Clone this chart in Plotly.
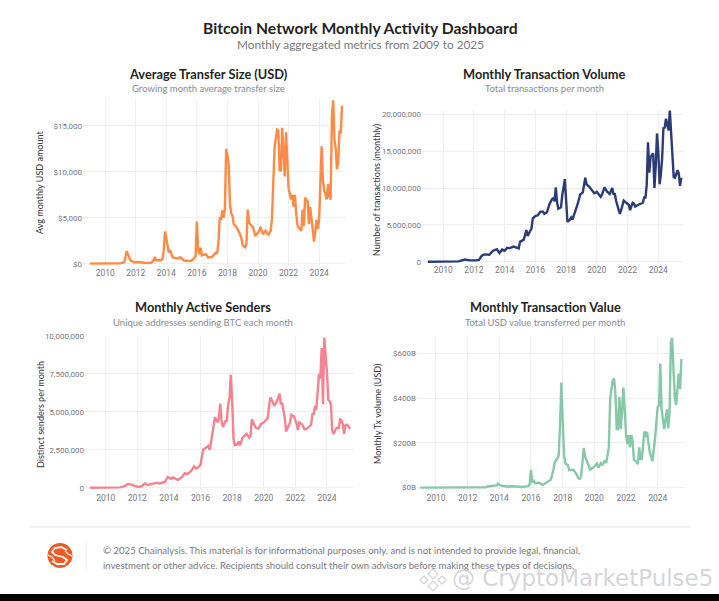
#!/usr/bin/env python3
"""Bitcoin network monthly activity dashboard."""

import plotly.graph_objects as go

W, H = 719, 601
TEXT_FONT = "Lato"
TICK_FONT = "Roboto"

# values
size_dates = ["2009-01", "2010-06", "2011-01", "2011-04", "2011-05", "2011-06", "2011-07", "2011-09", "2011-12",
              "2012-03", "2012-09", "2013-01", "2013-03", "2013-04", "2013-05", "2013-08", "2013-10", "2013-11", "2013-12",
              "2014-01", "2014-02", "2014-03", "2014-04", "2014-06", "2014-10", "2014-12",
              "2015-03", "2015-08", "2015-10", "2015-12", "2016-01", "2016-02", "2016-03", "2016-04", "2016-05", "2016-08", "2016-10",
              "2017-01", "2017-04", "2017-05", "2017-06", "2017-07", "2017-08", "2017-09", "2017-10", "2017-11", "2017-12",
              "2018-01", "2018-02", "2018-03", "2018-04", "2018-05", "2018-06", "2018-08", "2018-10", "2018-12",
              "2019-01", "2019-03", "2019-04", "2019-05", "2019-06", "2019-07", "2019-09", "2019-11",
              "2020-02", "2020-03", "2020-05", "2020-07", "2020-09", "2020-11", "2020-12",
              "2021-01", "2021-02", "2021-04", "2021-05", "2021-06", "2021-07", "2021-08", "2021-09", "2021-10", "2021-11", "2021-12",
              "2022-01", "2022-03", "2022-04", "2022-05", "2022-06", "2022-07", "2022-08", "2022-09", "2022-11", "2022-12",
              "2023-01", "2023-02", "2023-04", "2023-05", "2023-06", "2023-07", "2023-09", "2023-10", "2023-11", "2023-12",
              "2024-01", "2024-02", "2024-03", "2024-04", "2024-05", "2024-07", "2024-08", "2024-09", "2024-10", "2024-11", "2024-12",
              "2025-01", "2025-02", "2025-03", "2025-04", "2025-05", "2025-06", "2025-07"]
size_usd = [5, 10, 50, 150, 700, 1350, 1000, 350, 150,
            180, 80, 100, 350, 750, 400, 350, 500, 1500, 3500,
            2900, 2000, 1200, 1500, 700, 550, 700,
            350, 280, 450, 800, 4600, 1500, 1000, 1750, 900, 1050, 650,
            750, 1200, 1100, 2500, 5000, 4900, 5800, 5000, 6000, 12500,
            11800, 10800, 6500, 5500, 5200, 4300, 4000, 3500, 2800,
            2000, 1800, 2200, 5900, 4500, 4300, 4000, 3000,
            3600, 4000, 3200, 3600, 3100, 3600, 5000,
            9000, 12700, 14600, 14500, 10200, 10100, 14800, 12000, 9500, 14300, 11500,
            8200, 7000, 7500, 6200, 7500, 5500, 4200, 3900, 3600, 5900,
            4100, 7200, 6800, 4300, 6200, 5000, 2400, 3500, 4800, 3800,
            4800, 9000, 12800, 9000, 8000, 7000, 8700, 7300, 7000, 16000, 17800,
            13500, 12500, 10300, 11000, 14500, 14200, 17200]

volume_dates = ["2009-01", "2010-06", "2011-01", "2011-06", "2011-10",
                "2012-03", "2012-05", "2012-07", "2012-09", "2013-01", "2013-04", "2013-07", "2013-09", "2013-11",
                "2014-01", "2014-03", "2014-05", "2014-08", "2014-12",
                "2015-01", "2015-04", "2015-06", "2015-07", "2015-09", "2015-10", "2015-11",
                "2016-01", "2016-03", "2016-05", "2016-07", "2016-08", "2016-10", "2016-12",
                "2017-02", "2017-03", "2017-04", "2017-05", "2017-06", "2017-07", "2017-09", "2017-10", "2017-12",
                "2018-01", "2018-02", "2018-04", "2018-05", "2018-06", "2018-08", "2018-10", "2018-12",
                "2019-02", "2019-04", "2019-05", "2019-07", "2019-09", "2019-11",
                "2020-01", "2020-04", "2020-05", "2020-07", "2020-09", "2020-11",
                "2021-01", "2021-02", "2021-03", "2021-04", "2021-07", "2021-08", "2021-10", "2021-12",
                "2022-02", "2022-03", "2022-05", "2022-06", "2022-07", "2022-09",
                "2023-01", "2023-02", "2023-03", "2023-04", "2023-05", "2023-06", "2023-07", "2023-09", "2023-10", "2023-11", "2023-12",
                "2024-01", "2024-02", "2024-03", "2024-04", "2024-05", "2024-06", "2024-07", "2024-08", "2024-09", "2024-10", "2024-11", "2024-12",
                "2025-01", "2025-02", "2025-03", "2025-04", "2025-05", "2025-06", "2025-07"]
volume_tx = [500, 8000, 50000, 300000, 180000,
             200000, 250000, 800000, 1000000, 950000, 1500000, 1700000, 1200000, 1650000,
             1500000, 1900000, 1850000, 2050000, 1800000,
             2700000, 3000000, 4300000, 3500000, 4200000, 4500000, 5900000,
             6200000, 6300000, 6800000, 6800000, 6500000, 6700000, 7800000,
             8500000, 8600000, 8200000, 10100000, 8000000, 7200000, 7400000, 9000000, 11200000,
             8500000, 5400000, 5700000, 6000000, 5700000, 6700000, 7800000, 9100000,
             9400000, 11400000, 10500000, 10200000, 9800000, 9300000,
             9500000, 8800000, 9100000, 10100000, 9500000, 9200000,
             10000000, 9100000, 9300000, 8300000, 6500000, 7000000, 8300000, 8000000,
             7700000, 7000000, 8000000, 7900000, 7500000, 7700000,
             8000000, 8800000, 8600000, 10500000, 16200000, 12100000, 14200000, 14700000, 10000000, 13000000, 17400000,
             15000000, 10500000, 11800000, 14000000, 18100000, 18200000, 19400000, 18700000, 17800000, 20500000, 17000000, 13000000,
             11500000, 11400000, 11900000, 12400000, 12000000, 10300000, 11400000]

senders_dates = ["2009-01", "2010-06", "2010-12", "2011-03", "2011-06", "2011-08", "2011-11",
                 "2012-01", "2012-04", "2012-07", "2012-09", "2012-12", "2013-04", "2013-06", "2013-10", "2013-12",
                 "2014-03", "2014-04", "2014-08", "2014-11",
                 "2015-01", "2015-03", "2015-06", "2015-08", "2015-10",
                 "2016-01", "2016-03", "2016-07", "2016-08", "2016-09", "2016-10", "2016-12",
                 "2017-02", "2017-03", "2017-04", "2017-05", "2017-06", "2017-08", "2017-09", "2017-10", "2017-11", "2017-12",
                 "2018-01", "2018-02", "2018-03", "2018-05", "2018-06", "2018-07", "2018-09", "2018-12",
                 "2019-02", "2019-03", "2019-04", "2019-05", "2019-07", "2019-09", "2019-11",
                 "2020-01", "2020-03", "2020-04", "2020-05", "2020-06", "2020-07", "2020-09", "2020-11",
                 "2021-01", "2021-02", "2021-03", "2021-05", "2021-06", "2021-08", "2021-09", "2021-10", "2021-12",
                 "2022-02", "2022-03", "2022-04", "2022-06", "2022-08", "2022-10",
                 "2023-01", "2023-02", "2023-03", "2023-04", "2023-05", "2023-06", "2023-07", "2023-08", "2023-09", "2023-10", "2023-11", "2023-12",
                 "2024-01", "2024-02", "2024-03", "2024-04", "2024-05", "2024-06", "2024-08", "2024-09", "2024-10", "2024-11", "2024-12",
                 "2025-01", "2025-02", "2025-03", "2025-04", "2025-05", "2025-06", "2025-07"]
senders = [500, 5000, 20000, 80000, 250000, 220000, 100000,
           60000, 80000, 280000, 180000, 240000, 330000, 280000, 380000, 700000,
           580000, 680000, 520000, 700000,
           960000, 900000, 1100000, 1400000, 1250000,
           1500000, 2500000, 2750000, 2500000, 3000000, 3500000, 4650000,
           4300000, 4600000, 5550000, 4400000, 4000000, 4400000, 4400000, 5500000, 5900000, 7450000,
           5800000, 3300000, 2800000, 2850000, 3050000, 2800000, 3300000, 3550000,
           3300000, 3400000, 4500000, 4300000, 3950000, 3900000, 4200000,
           4300000, 4500000, 4600000, 5300000, 5950000, 5800000, 5400000, 5700000,
           6200000, 5500000, 5600000, 4600000, 3700000, 4100000, 4300000, 4800000, 4700000,
           4200000, 3800000, 4300000, 4200000, 3850000, 3900000,
           4150000, 4900000, 4800000, 5400000, 5150000, 6800000, 7500000, 7200000, 9200000, 5500000, 9900000, 8600000,
           7700000, 5800000, 5700000, 5500000, 3800000, 3550000, 3900000, 3950000, 3950000, 4500000, 4450000,
           4200000, 3550000, 4100000, 4150000, 4100000, 3950000, 3950000]

value_dates = ["2009-01", "2011-01", "2013-03", "2013-04", "2013-11", "2013-12",
               "2014-02", "2014-06", "2014-12", "2015-06", "2015-11", "2015-12",
               "2016-01", "2016-02", "2016-03", "2016-04", "2016-07", "2016-10",
               "2017-01", "2017-04", "2017-06", "2017-07", "2017-09", "2017-10", "2017-11", "2017-12",
               "2018-01", "2018-02", "2018-03", "2018-05", "2018-06", "2018-09", "2018-11",
               "2019-01", "2019-02", "2019-03", "2019-04", "2019-05", "2019-06", "2019-07", "2019-09", "2019-10",
               "2020-01", "2020-03", "2020-04", "2020-06", "2020-07", "2020-09", "2020-10", "2020-12",
               "2021-01", "2021-03", "2021-04", "2021-05", "2021-06", "2021-07", "2021-08", "2021-09", "2021-10", "2021-11", "2021-12",
               "2022-01", "2022-02", "2022-03", "2022-04", "2022-05", "2022-06", "2022-07", "2022-09", "2022-10", "2022-11", "2022-12",
               "2023-01", "2023-03", "2023-04", "2023-05", "2023-06", "2023-07", "2023-09", "2023-11",
               "2024-01", "2024-02", "2024-03", "2024-04", "2024-06", "2024-08", "2024-09", "2024-10", "2024-11", "2024-12",
               "2025-01", "2025-02", "2025-03", "2025-04", "2025-05", "2025-06", "2025-07"]
value_bn = [0.1, 0.5, 2, 5, 10, 18,
            10, 5, 6, 3, 7, 15,
            80, 22, 35, 20, 22, 12,
            22, 35, 80, 115, 130, 145, 280, 470,
            300, 150, 108, 100, 78, 80, 65,
            42, 40, 50, 110, 178, 140, 125, 100, 80,
            95, 108, 90, 110, 100, 122, 110, 180,
            400, 480, 488, 420, 262, 262, 405, 262, 340, 447, 350,
            240, 195, 235, 180, 235, 210, 125, 115, 105, 180, 125,
            130, 252, 225, 250, 200, 160, 118, 220,
            360, 365, 555, 350, 262, 350, 265, 340, 650, 670,
            520, 400, 370, 440, 510, 440, 575]

size_ticks = [0, 5000, 10000, 15000]
size_labels = ["$0", "$5,000", "$10,000", "$15,000"]
volume_ticks = [0, 5000000, 10000000, 15000000, 20000000]
volume_labels = ["0", "5,000,000", "10,000,000", "15,000,000", "20,000,000"]
senders_ticks = [0, 2500000, 5000000, 7500000, 10000000]
senders_labels = ["0", "2,500,000", "5,000,000", "7,500,000", "10,000,000"]
value_ticks = [0, 200, 400, 600]
value_labels = ["$0B", "$200B", "$400B", "$600B"]

MARK_GREY = "rgba(205,205,210,0.85)"


def px(x):
    return x / W


def py(y):
    return 1 - y / H


def text(x, y, s, size, color, bold=False, anchor="center", font=TEXT_FONT, angle=0):
    label = f"<b>{s}</b>" if bold else s
    return dict(x=px(x), y=py(y), xref="paper", yref="paper", text=label, showarrow=False,
                xanchor=anchor, yanchor="middle", textangle=angle,
                font=dict(family=font, size=size, color=color))


def path(points, close=False):
    d = "M" + " L".join(f"{px(x):.5f},{py(y):.5f}" for x, y in points)
    return d + (" Z" if close else "")


def stroke(points, color, width, close=False):
    return dict(type="path", xref="paper", yref="paper", path=path(points, close), line=dict(color=color, width=width))


def diamond(cx, cy, r):
    return stroke([(cx, cy - r), (cx + r, cy), (cx, cy + r), (cx - r, cy)], MARK_GREY, 1.2, close=True)


panels = [
    dict(name="Average Transfer Size (USD)", sub="Growing month average transfer size", ylabel="Avg monthly USD amount",
         x=size_dates, y=size_usd, color="#FF8A45", ticks=size_ticks, labels=size_labels,
         box=(83, 345, 100, 265), xrange=("2008-07-20", "2025-09-10"), yrange=(-140, 17830),
         title_xy=(208, 74), sub_y=89, ylabel_x=40, ylabel_y=183, standoff=1),
    dict(name="Monthly Transaction Volume", sub="Total transactions per month", ylabel="Number of transactions (monthly)",
         x=volume_dates, y=volume_tx, color="#2A3B78", ticks=volume_ticks, labels=volume_labels,
         box=(422, 683, 110, 263), xrange=("2008-08-15", "2025-08-10"), yrange=(-170000, 20580000),
         title_xy=(544, 74), sub_y=89, ylabel_x=377, ylabel_y=190, standoff=0),
    dict(name="Monthly Active Senders", sub="Unique addresses sending BTC each month", ylabel="Distinct senders per month",
         x=senders_dates, y=senders, color="#F4828F", ticks=senders_ticks, labels=senders_labels,
         box=(85, 353, 336, 489), xrange=("2008-09-10", "2025-08-25"), yrange=(-85000, 10000000),
         title_xy=(203, 307), sub_y=322, ylabel_x=40, ylabel_y=415, standoff=2),
    dict(name="Monthly Transaction Value", sub="Total USD value transferred per month", ylabel="Monthly Tx volume (USD)",
         x=value_dates, y=value_bn, color="#86C8A7", ticks=value_ticks, labels=value_labels,
         box=(417, 684, 336, 489), xrange=("2008-10-20", "2025-08-30"), yrange=(-6, 678),
         title_xy=(545, 307), sub_y=322, ylabel_x=377, ylabel_y=414, standoff=2),
]

fig = go.Figure()
annotations = [
    text(360, 28, "Bitcoin Network Monthly Activity Dashboard", 15.7, "#1f1f24", bold=True),
    text(360, 44, "Monthly aggregated metrics from 2009 to 2025", 11.8, "#77777c"),
]
layout_axes = {}

for i, p in enumerate(panels, start=1):
    left, right, top, bottom = p["box"]
    fig.add_trace(go.Scatter(x=p["x"], y=p["y"], mode="lines", name=p["name"], showlegend=False,
                             line=dict(color=p["color"], width=2.4), xaxis=f"x{i}", yaxis=f"y{i}"))
    layout_axes[f"xaxis{i}"] = dict(
        domain=[px(left), px(right)], anchor=f"y{i}", type="date", range=list(p["xrange"]), automargin=False,
        tick0="2010-01-01", dtick="M24", tickformat="%Y", showline=False, zeroline=False, ticks="",
        ticklabelstandoff=p["standoff"], showgrid=True, gridcolor="#EEEEEF", gridwidth=1.3,
        tickfont=dict(family=TICK_FONT, size=8.5, color="#77777c"))
    layout_axes[f"yaxis{i}"] = dict(
        domain=[py(bottom), py(top)], anchor=f"x{i}", range=list(p["yrange"]), automargin=False,
        tickvals=p["ticks"], ticktext=p["labels"], showline=False, zeroline=False, ticks="",
        showgrid=True, gridcolor="#EEEEEF", gridwidth=1.3,
        tickfont=dict(family=TICK_FONT, size=8, color="#77777c"))
    annotations.append(text(p["title_xy"][0], p["title_xy"][1], p["name"], 12.8, "#1f1f24", bold=True))
    annotations.append(text(p["title_xy"][0], p["sub_y"], p["sub"], 9.5, "#8a8a8f"))
    annotations.append(text(p["ylabel_x"], p["ylabel_y"], p["ylabel"], 9, "#333338", angle=-90))

# footer
annotations.append(text(101, 550, "© 2025 Chainalysis. This material is for informational purposes only, and is not intended to provide legal, financial,",
                        9.6, "#77777c", anchor="left"))
annotations.append(text(101, 565, "investment or other advice. Recipients should consult their own advisors before making these types of decisions.",
                        9.6, "#77777c", anchor="left"))
annotations.append(text(450, 578, "@ CryptoMarketPulse5", 23, MARK_GREY, anchor="left", font="DejaVu Sans"))

shapes = [
    dict(type="line", xref="paper", yref="paper", x0=px(30), x1=px(690), y0=py(527), y1=py(527),
         line=dict(color="#E6E6E8", width=1.2)),
    dict(type="line", xref="paper", yref="paper", x0=px(86), x1=px(86), y0=py(541), y1=py(571),
         line=dict(color="#E6E6E8", width=1)),
    # logo
    dict(type="circle", xref="paper", yref="paper", x0=px(47.5), x1=px(72.5), y0=py(543), y1=py(568),
         fillcolor="#F15A22", line=dict(width=0)),
    stroke([(67, 550), (61, 547), (55, 548), (52, 552), (55, 555), (63, 557), (67, 560), (64, 564), (57, 564), (52, 561)], "white", 1.8),
    stroke([(48, 555), (52, 557), (55, 561)], "white", 1.2),
    stroke([(72, 556), (68, 554), (65, 551)], "white", 1.2),
    # watermark mark
    diamond(433, 574, 5),
    diamond(424, 580, 4),
    diamond(442, 580, 4),
    diamond(433, 586, 5),
    # black strip at the bottom of the screenshot
    dict(type="rect", xref="paper", yref="paper", x0=0, x1=1, y0=0, y1=py(594),
         fillcolor="#000000", line=dict(width=0)),
]

fig.update_layout(width=W, height=H, margin=dict(l=0, r=0, t=0, b=0, autoexpand=False), paper_bgcolor="white", plot_bgcolor="white",
                  showlegend=False, annotations=annotations, shapes=shapes, **layout_axes)

fig.write_html("out.html", config={"displayModeBar": False}, post_script="document.body.style.margin='0';")
